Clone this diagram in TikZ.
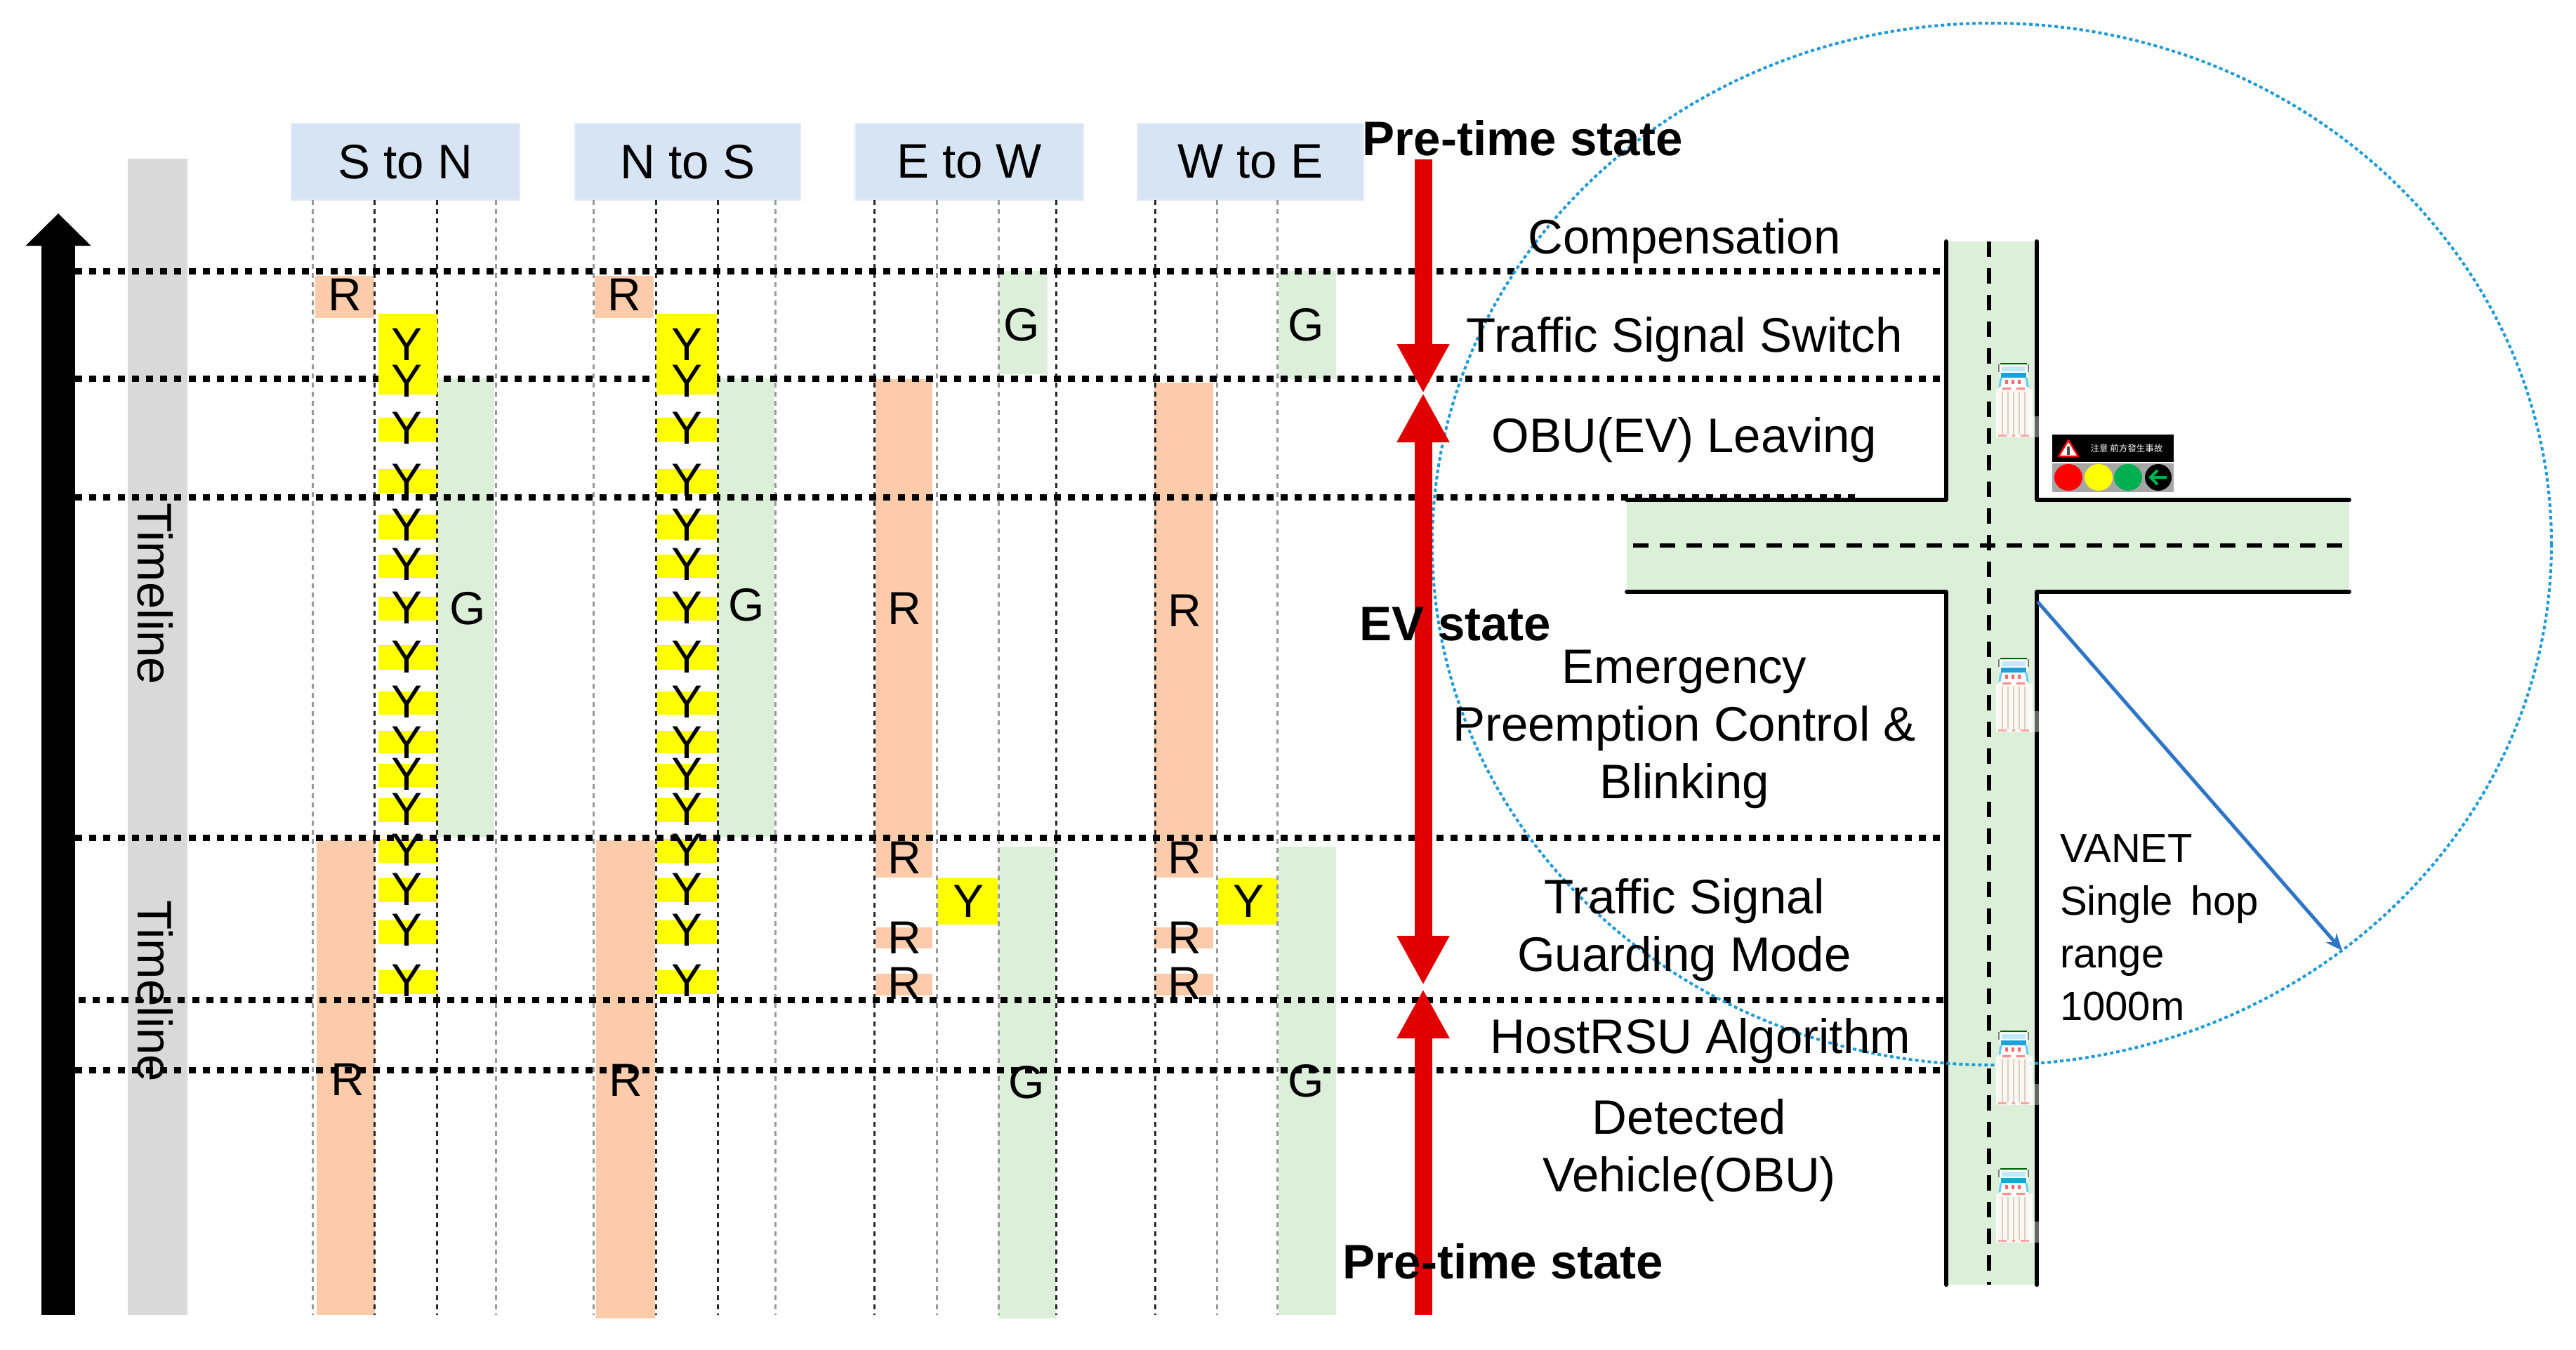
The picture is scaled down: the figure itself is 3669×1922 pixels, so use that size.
\documentclass[tikz,border=0pt]{standalone}
\usepackage{fontspec}
\setmainfont{Liberation Sans}
\newfontfamily\cjkfont{Noto Sans CJK TC}
\usetikzlibrary{arrows.meta}
\definecolor{hdr}{HTML}{D7E4F4}
\definecolor{rfill}{HTML}{FBCBAA}
\definecolor{gfill}{HTML}{DCEFD9}
\definecolor{yfill}{HTML}{FFFF00}
\definecolor{greybar}{HTML}{D9D9D9}
\definecolor{redarr}{HTML}{E00000}
\definecolor{ring}{HTML}{1E9AD6}
\definecolor{ray}{HTML}{2E75C6}
\definecolor{lampgreen}{HTML}{00B050}
\newcommand{\boxat}[5]{\fill[#1] (#2,#3) rectangle (#4,#5);}
\tikzset{
  x=1pt,y=-1pt,
  lab/.style={inner sep=0pt,outer sep=0pt,font=\fontsize{69}{82}\selectfont,align=center},
  boldlab/.style={lab,font=\fontsize{69}{82}\selectfont\bfseries},
  sig/.style={inner sep=0pt,outer sep=0pt,font=\fontsize{66}{70}\selectfont},
  hdrbox/.style={fill=hdr,draw=hdr!70!white,line width=2pt},
  darkdash/.style={draw=black!85,line width=3pt,dash pattern=on 7pt off 6pt},
  greydash/.style={draw=black!40,line width=3pt,dash pattern=on 7pt off 6pt},
  dotline/.style={draw=black,line width=9pt,dash pattern=on 10pt off 10.2pt},
  redarrow/.style={draw=redarr,line width=25pt,-{Triangle[length=70pt,width=70pt]}},
  edge/.style={draw=black,line width=6pt,line cap=round,line join=round},
  centre/.style={draw=black,line width=6pt,dash pattern=on 22pt off 16pt},
  truck/.pic={
    \fill[white,opacity=.4] (50,77) rectangle (61,107);
    \fill[white,opacity=.85] (0,38) rectangle (52,107);
    \fill[white] (5,4) rectangle (45,38);
    \fill[orange!7] (3,40) rectangle (47,104);
    \foreach \q in {9,17,25,33,41}{\draw[black!18,line width=2pt] (\q,42) -- (\q,103);}
    \draw[black!45!green!70!black,line width=2.5pt] (6,2) -- (44,2);
    \draw[black!50,line width=2pt] (4,3) -- (4,14) (46,3) -- (46,14);
    \fill[cyan!25] (8,6) rectangle (42,13);
    \fill[cyan!75!teal] (7,15) rectangle (43,22);
    \draw[cyan!60,line width=3pt] (7,22) -- (5,35) (43,22) -- (45,35);
    \foreach \q in {15,24,33}{\fill[red!60] (\q-2,25) rectangle (\q+2,31);}
    \fill[red!45] (9,36) rectangle (21,39) (29,36) rectangle (41,39);
    \fill[red!35] (3,103) rectangle (15,106) (23,103) rectangle (27,106) (35,103) rectangle (47,106);
  }
}
\begin{document}
\begin{tikzpicture}
\useasboundingbox (0,0) rectangle (3669,1922);
% timeline bar
\fill[greybar] (182,226) rectangle (267,1873);
% headers
\node[hdrbox,lab,minimum width=325pt,minimum height=109pt] (h1) at (577.5,230.5) {S to N};
\node[hdrbox,lab,minimum width=321pt,minimum height=109pt] (h2) at (979.5,230.5) {N to S};
\node[hdrbox,lab,minimum width=325pt,minimum height=109pt] (h3) at (1380.5,230.5) {E to W};
\node[hdrbox,lab,minimum width=322pt,minimum height=109pt] (h4) at (1781,230.5) {W to E};
% red fills
\boxat{rfill}{449}{393}{533}{453}
\boxat{rfill}{847}{393}{931}{453}
\boxat{rfill}{451}{1197}{534}{1873}
\boxat{rfill}{849}{1197}{933}{1878}
\boxat{rfill}{1247}{540}{1328}{1250}
\boxat{rfill}{1644}{545}{1728}{1250}
\foreach \xa/\xb in {1247/1328,1644/1728}{
  \boxat{rfill}{\xa}{1321}{\xb}{1351}
  \boxat{rfill}{\xa}{1387}{\xb}{1418}
}
% green fills
\boxat{gfill}{624}{539}{704}{1193}
\boxat{gfill}{1023}{539}{1103}{1193}
\boxat{gfill}{1422}{386}{1492}{533}
\boxat{gfill}{1821}{386}{1903}{540}
\boxat{gfill}{1422}{1206}{1504}{1878}
\boxat{gfill}{1821}{1206}{1903}{1873}
% yellow fills
\foreach \xa/\xb in {539/623,935/1021}{
  \foreach \ya/\yb in {595/629,668/702,733/768,790/823,850/884,919/954,985/1018,1041/1073,1088/1121,1137/1171,1195/1229,1251/1285,1311/1345,1382/1416}{
    \boxat{yfill}{\xa}{\ya}{\xb}{\yb}
  }
}
\boxat{yfill}{1335}{1251}{1421}{1317}
\boxat{yfill}{1735}{1251}{1820}{1317}
% vertical dashed
\foreach \q in {533,622,934,1022,1245,1504,1645}{\draw[darkdash] (\q,285) -- (\q,1873);}
\foreach \q in {445,706,845,1104,1334,1422,1733,1819}{\draw[greydash] (\q,285) -- (\q,1873);}
% road
\fill[gfill] (2775,344) rectangle (2898,1830);
\fill[gfill] (2317,715) rectangle (3346,840);
% signal letters under the dotted lines
\foreach \xc in {580,978}{
  \foreach \yc in {610,684,748,804,866,936,1000,1058,1103,1153,1211,1267,1325,1397}{
    \node[sig] at (\xc,\yc) {Y};
  }
}
\node[sig] (ra) at (491,420) {R};
\node[sig] (rb) at (889,420) {R};
\node[sig] (ga) at (666,867) {G};
\node[sig] (gb) at (1063,862) {G};
\node[sig] (gc) at (1455,463) {G};
\node[sig] (gd) at (1860,463) {G};
\node[sig] (re) at (1288,867) {R};
\node[sig] (rf) at (1687,870) {R};
\foreach \xc in {1288,1687}{
  \node[sig] at (\xc,1222) {R};
  \node[sig] at (\xc,1336) {R};
  \node[sig] at (\xc,1401) {R};
}
\node[sig] (ye) at (1379,1284) {Y};
\node[sig] (yw) at (1778,1284) {Y};
\node[sig] (rg) at (495,1538) {R};
\node[sig] (rh) at (891,1539) {R};
\node[sig] (gg) at (1462,1542) {G};
\node[sig] (gh) at (1860,1540) {G};
\node[lab,rotate=-90] (tl1) at (221,846) {Timeline};
\node[lab,rotate=-90] (tl2) at (221,1412) {Timeline};
% dotted time lines
\coordinate (da) at (107,386);  \coordinate (db) at (2771,386);
\coordinate (dc) at (107,539);  \coordinate (dd) at (2771,539);
\coordinate (de) at (107,708);  \coordinate (df) at (2645,708);
\coordinate (dg) at (107,1193); \coordinate (dh) at (2771,1193);
\coordinate (di) at (112,1424); \coordinate (dj) at (2771,1424);
\coordinate (dk) at (107,1524); \coordinate (dl) at (2771,1524);
\draw[dotline] (da) -- (db);
\draw[dotline] (dc) -- (dd);
\draw[dotline] (de) -- (df);
\draw[dotline] (dg) -- (dh);
\draw[dotline] (di) -- (dj);
\draw[dotline] (dk) -- (dl);
% first yellow blocks lie over the second dotted line
\foreach \xa/\xb/\xc in {539/623/580,935/1021/978}{
  \boxat{yfill}{\xa}{447}{\xb}{562}
  \node[sig] at (\xc,491) {Y};
  \node[sig] at (\xc,543) {Y};
}
% black time arrow
\coordinate (ta) at (83,1873); \coordinate (tb) at (83,304);
\draw[draw=black,line width=48pt,-{Triangle[length=46pt,width=90pt]}] (ta) -- (tb);
% road markings
\coordinate (va) at (2833,344); \coordinate (vb) at (2833,1830);
\coordinate (ha) at (2326,777); \coordinate (hb) at (3346,777);
\draw[centre] (va) -- (vb);
\draw[centre] (ha) -- (hb);
\draw[edge] (2317,712) -- (2772,712) -- (2772,344);
\draw[edge] (3346,712) -- (2901,712) -- (2901,344);
\draw[edge] (2317,843) -- (2772,843) -- (2772,1830);
\draw[edge] (3346,843) -- (2901,843) -- (2901,1830);
% range ring and ray
\draw[ring,line width=4pt,dash pattern=on 5pt off 4pt] (2837,775) ellipse [x radius=797,y radius=742];
\coordinate (rayA) at (2902,857); \coordinate (rayB) at (3336,1354);
\draw[ray,line width=5pt,-{Stealth[length=24pt,width=20pt]}] (rayA) -- (rayB);
% vehicles
\pic at (2843,516) {truck};
\pic at (2843,936) {truck};
\pic at (2843,1467) {truck};
\pic at (2843,1663) {truck};
% traffic light
\fill[black] (2923,619) rectangle (3096,658);
\fill[black!35] (2923,660) rectangle (3096,701);
\fill[white,draw=red,line width=2.5pt,line join=round] (2946,627) -- (2932,650) -- (2960,650) -- cycle;
\fill[black!70] (2944,636) rectangle (2948,648);
\node[inner sep=0pt,text=white,font=\cjkfont\fontsize{12.5}{13}\selectfont] (sign) at (3029,639) {注意 前方發生事故};
\fill[red] (2946,680) ellipse [x radius=20,y radius=19];
\fill[yfill] (2989,680) ellipse [x radius=20,y radius=19];
\fill[lampgreen] (3031,680) ellipse [x radius=20,y radius=19];
\fill[black] (3074,680) ellipse [x radius=19,y radius=19];
\draw[lampgreen,line width=4pt] (3063,680) -- (3086,680) (3073,670) -- (3063,680) -- (3073,690);
% red state arrows
\coordinate (s1) at (2027,227); \coordinate (s2) at (2027,560);
\coordinate (s3) at (2027,1000); \coordinate (s4) at (2027,560);
\coordinate (s5) at (2027,1000); \coordinate (s6) at (2027,1403);
\coordinate (s7) at (2027,1873); \coordinate (s8) at (2027,1409);
\draw[redarrow] (s1) -- (s2);
\draw[redarrow] (s3) -- (s4);
\draw[redarrow] (s5) -- (s6);
\draw[redarrow] (s7) -- (s8);
% texts
\node[boldlab] (pre1) at (2169,197) {Pre-time state};
\node[lab] (comp) at (2399,344) {Compensation};
\node[lab] (swit) at (2399,484) {Traffic Signal Switch};
\node[lab] (leav) at (2399,627) {OBU(EV) Leaving};
\node[boldlab] (evs) at (2073,889) {EV state};
\node[lab] (emer) at (2399,1039) {Emergency\\Preemption Control \&\\Blinking};
\node[lab] (guard) at (2399,1325) {Traffic Signal\\Guarding Mode};
\node[lab] (host) at (2422,1483) {HostRSU Algorithm};
\node[lab] (det) at (2406,1639) {Detected\\Vehicle(OBU)};
\node[boldlab] (pre2) at (2141,1797) {Pre-time state};
\node[lab,align=left,anchor=west,font=\fontsize{58}{75}\selectfont] (vanet) at (2934,1321) {VANET\\Single\hspace{9pt} hop\\range\\1000m};
\end{tikzpicture}
\end{document}
